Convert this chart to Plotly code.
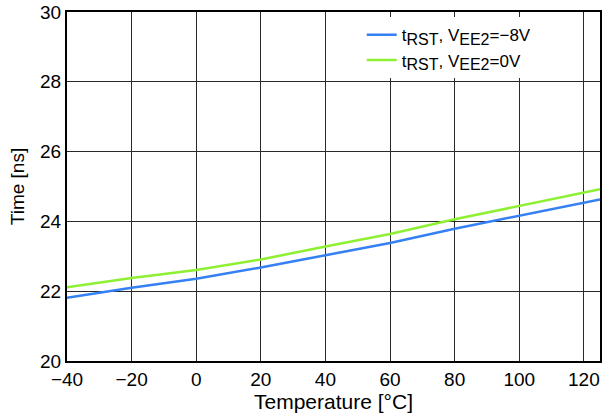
import plotly.graph_objects as go

# Reset time vs temperature
temp = [-40, -20, 0, 20, 40, 60, 80, 100, 120, 125]
t_rst_vee2_m8 = [21.81, 22.10, 22.36, 22.68, 23.03, 23.38, 23.79, 24.16, 24.55, 24.63]
t_rst_vee2_0 = [22.11, 22.38, 22.61, 22.91, 23.28, 23.64, 24.06, 24.45, 24.83, 24.92]

x_ticks = [-40, -20, 0, 20, 40, 60, 80, 100, 120]
y_ticks = [20, 22, 24, 26, 28, 30]

FONT = 'Liberation Sans, Arial, sans-serif'
sub = lambda s: '<sub><span style="font-size:16px">' + s + '</span></sub>'

fig = go.Figure()

fig.add_trace(go.Scatter(
    x=temp, y=t_rst_vee2_m8, mode='lines',
    name='t' + sub('RST') + ', V' + sub('EE2') + '=\u22128V',
    line=dict(color='#3580f2', width=2.5)
))
fig.add_trace(go.Scatter(
    x=temp, y=t_rst_vee2_0, mode='lines',
    name='t' + sub('RST') + ', V' + sub('EE2') + '=0V',
    line=dict(color='#8ef032', width=2.5)
))

fig.update_layout(
    width=604, height=420,
    margin=dict(l=67, r=4, t=12, b=59),
    paper_bgcolor='white', plot_bgcolor='white',
    font=dict(family=FONT, size=19, color='black'),
    legend=dict(
        x=0.553, y=0.985, xanchor='left', yanchor='top',
        bgcolor='white', itemwidth=30, tracegroupgap=0,
        font=dict(family=FONT, size=17, color='black')
    ),
    showlegend=True
)

fig.update_xaxes(
    range=[-40, 125], tickvals=x_ticks,
    title=dict(text='Temperature [°C]', standoff=4,
               font=dict(family=FONT, size=21, color='black')),
    showgrid=True, gridcolor='#2a2a2a', gridwidth=1,
    showline=True, linecolor='black', linewidth=2, mirror=True,
    zeroline=False, ticks='', automargin=False, ticklabeloverflow='allow'
)
fig.update_yaxes(
    range=[20, 30], tickvals=y_ticks,
    title=dict(text='Time [ns]', standoff=10,
               font=dict(family=FONT, size=19, color='black')),
    showgrid=True, gridcolor='#2a2a2a', gridwidth=1,
    showline=True, linecolor='black', linewidth=2, mirror=True,
    zeroline=False, ticks='', automargin=False, ticklabeloverflow='allow'
)

# drop the page's default body margin so the figure sits at the window corner
fig.write_html("out.html", config={'displayModeBar': False},
               post_script="document.body.style.margin='0';")
